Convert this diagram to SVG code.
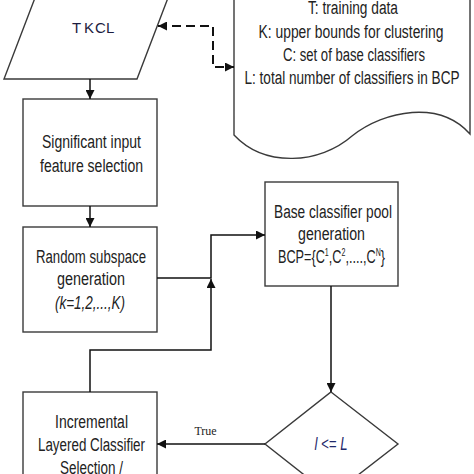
<svg xmlns="http://www.w3.org/2000/svg" width="474" height="474" viewBox="0 0 474 474">
<style>
.shape{fill:#fff;stroke:#3a3a3a;stroke-width:1.4}
.lbl{font-family:"Liberation Sans",Arial,sans-serif;font-size:18px;fill:#222;text-anchor:middle}
.it{font-style:italic}
.con{fill:none;stroke:#111;stroke-width:1.5}
.dash{fill:none;stroke:#111;stroke-width:2;stroke-dasharray:9 5}
</style>
<defs>
<marker id="ah" viewBox="0 0 10 10" refX="10" refY="5" markerWidth="9" markerHeight="9" markerUnits="userSpaceOnUse" orient="auto-start-reverse">
<path d="M0,0 L10,5 L0,10 z" fill="#111"/>
</marker>
</defs>
<rect width="474" height="474" fill="#fff"/>
<g id="input">
<polygon class="shape" points="38,-10 171,-10 137,79 4,79" stroke="#111"/>
<text class="lbl" style="text-anchor:start;font-size:15px;fill:#1c1c40" x="72 84 95 106" y="33">TKCL</text>
</g>
<g id="legend">
<path class="shape" d="M234,-5 L470,-5 L470,134 C440,100 385,110 352,136 C320,164 265,168 234,135 Z"/>
<text class="lbl" x="353" y="14" textLength="90" lengthAdjust="spacingAndGlyphs">T: training data</text>
<text class="lbl" x="351" y="37.5" textLength="185" lengthAdjust="spacingAndGlyphs">K: upper bounds for clustering</text>
<text class="lbl" x="354" y="61" textLength="142" lengthAdjust="spacingAndGlyphs">C: set of base classifiers</text>
<text class="lbl" x="352" y="84" textLength="215" lengthAdjust="spacingAndGlyphs">L: total number of classifiers in BCP</text>
</g>
<g id="feature">
<rect class="shape" x="23" y="99" width="134" height="107"/>
<text class="lbl" x="91.5" y="148" textLength="99" lengthAdjust="spacingAndGlyphs">Significant input</text>
<text class="lbl" x="91.5" y="172" textLength="103" lengthAdjust="spacingAndGlyphs">feature selection</text>
</g>
<g id="subspace">
<rect class="shape" x="23" y="227" width="134" height="105"/>
<text class="lbl" x="91" y="263" textLength="110" lengthAdjust="spacingAndGlyphs">Random subspace</text>
<text class="lbl" x="91" y="285" textLength="68" lengthAdjust="spacingAndGlyphs">generation</text>
<text class="lbl it" x="90" y="309" textLength="70" lengthAdjust="spacingAndGlyphs">(k=1,2,...,K)</text>
</g>
<g id="pool">
<rect class="shape" x="265" y="182" width="133" height="104"/>
<text class="lbl" x="333" y="218" textLength="118" lengthAdjust="spacingAndGlyphs">Base classifier pool</text>
<text class="lbl" x="331.5" y="240" textLength="67" lengthAdjust="spacingAndGlyphs">generation</text>
<text class="lbl" x="331.5" y="263" textLength="107" lengthAdjust="spacingAndGlyphs">BCP={C<tspan font-size="10" dy="-7">1</tspan><tspan dy="7">,C</tspan><tspan font-size="10" dy="-7">2</tspan><tspan dy="7">,....,C</tspan><tspan font-size="10" dy="-7">N</tspan><tspan dy="7">}</tspan></text>
</g>
<g id="decision">
<polygon class="shape" points="331,392 398,444 331,496 265,444"/>
<text class="lbl it" x="331" y="450" style="fill:#1f2a6b" textLength="33" lengthAdjust="spacingAndGlyphs">l &lt;= L</text>
</g>
<g id="select">
<rect class="shape" x="23" y="392" width="134" height="100"/>
<text class="lbl" x="91.5" y="428" textLength="73" lengthAdjust="spacingAndGlyphs">Incremental</text>
<text class="lbl" x="91.5" y="451" textLength="107" lengthAdjust="spacingAndGlyphs">Layered Classifier</text>
<text class="lbl" x="91.5" y="474" textLength="63" lengthAdjust="spacingAndGlyphs">Selection /</text>
</g>
<g id="connectors">
<path class="dash" d="M158,26 L213,26 L213,67 L234,67" marker-start="url(#ah)" marker-end="url(#ah)"/>
<path class="con" d="M90,79 L90,99" marker-end="url(#ah)"/>
<path class="con" d="M90,206 L90,227" marker-end="url(#ah)"/>
<path class="con" d="M157,278 L211,278 L211,235 L265,235" marker-end="url(#ah)"/>
<path class="con" d="M90,392 L90,350 L211,350 L211,279" marker-end="url(#ah)"/>
<path class="con" d="M331,286 L331,392" marker-end="url(#ah)"/>
<path class="con" d="M265,444 L157,444" marker-end="url(#ah)"/>
<text x="205.5" y="435" style="font-family:'Liberation Serif','Times New Roman',serif;font-size:12px;fill:#222;text-anchor:middle">True</text>
</g>
</svg>
